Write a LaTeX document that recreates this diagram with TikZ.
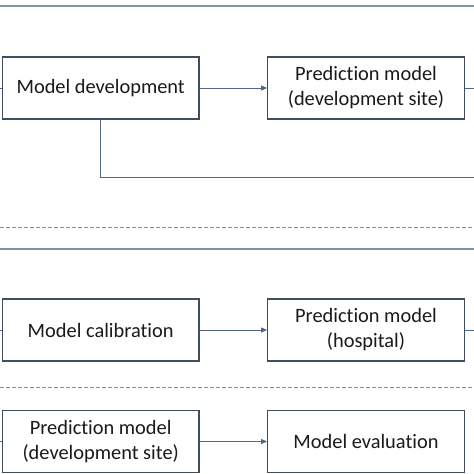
\documentclass[tikz,border=0pt]{standalone}
\usepackage{fontspec}
\setmainfont{Carlito}[RawFeature=-liga]
\usetikzlibrary{arrows.meta}
\definecolor{boxline}{HTML}{3F4D60}
\definecolor{conline}{HTML}{4F6888}
\definecolor{sepline}{HTML}{8292AA}
\definecolor{txt}{HTML}{1A1A1A}
\tikzset{
  procbox/.style={draw=boxline, line width=1.4pt, fill=white, minimum width=196.5pt, minimum height=62pt, inner sep=0pt, align=center, text=txt, font=\fontsize{20.4}{25}\selectfont},
  conn/.style={draw=conline, line width=1pt},
  arr/.style={conn, -{Triangle[length=6pt,width=5pt]}},
  solidsep/.style={draw=sepline, line width=1.2pt},
  dashsep/.style={draw=sepline, line width=1pt, dash pattern=on 3.5pt off 2.5pt}
}
\begin{document}
\begin{tikzpicture}[x=1pt,y=-1pt]
\useasboundingbox (0,0) rectangle (474,474);
\fill[white] (0,0) rectangle (474,474);
% separators
\coordinate (s1l) at (0,6); \coordinate (s1r) at (474,6);
\coordinate (d1l) at (0,227); \coordinate (d1r) at (474,227);
\coordinate (s2l) at (0,249); \coordinate (s2r) at (474,249);
\coordinate (d2l) at (0,387); \coordinate (d2r) at (474,387);
\draw[solidsep] (s1l) -- (s1r);
\draw[solidsep] (s2l) -- (s2r);
\draw[dashsep] (d1l) -- (d1r);
\draw[dashsep] (d2l) -- (d2r);
% boxes
\node[procbox] (dev) at (100.7,88) {Model development};
\node[procbox] (pmd) at (366,88) {Prediction model\\(development site)};
\node[procbox] (cal) at (100.7,330) {Model calibration};
\node[procbox] (pmh) at (366,330) {Prediction model\\(hospital)};
\node[procbox] (pmd2) at (100.7,441.5) {Prediction model\\(development site)};
\node[procbox] (eval) at (366,441.5) {Model evaluation};
% connectors
\draw[arr] (dev) -- (pmd);
\draw[arr] (cal) -- (pmh);
\draw[arr] (pmd2) -- (eval);
\coordinate (in1) at (0,88);
\coordinate (in3) at (0,330);
\coordinate (in5) at (0,441.5);
\draw[conn] (in1) -- (dev.west);
\draw[conn] (in3) -- (cal.west);
\draw[conn] (in5) -- (pmd2.west);
\coordinate (out2) at (474,88);
\coordinate (out4) at (474,330);
\draw[conn] (pmd.east) -- (out2);
\draw[conn] (pmh.east) -- (out4);
\coordinate (bend) at (100.7,177);
\coordinate (outb) at (474,177);
\draw[conn] (dev.south) -- (bend) -- (outb);
\end{tikzpicture}
\end{document}
